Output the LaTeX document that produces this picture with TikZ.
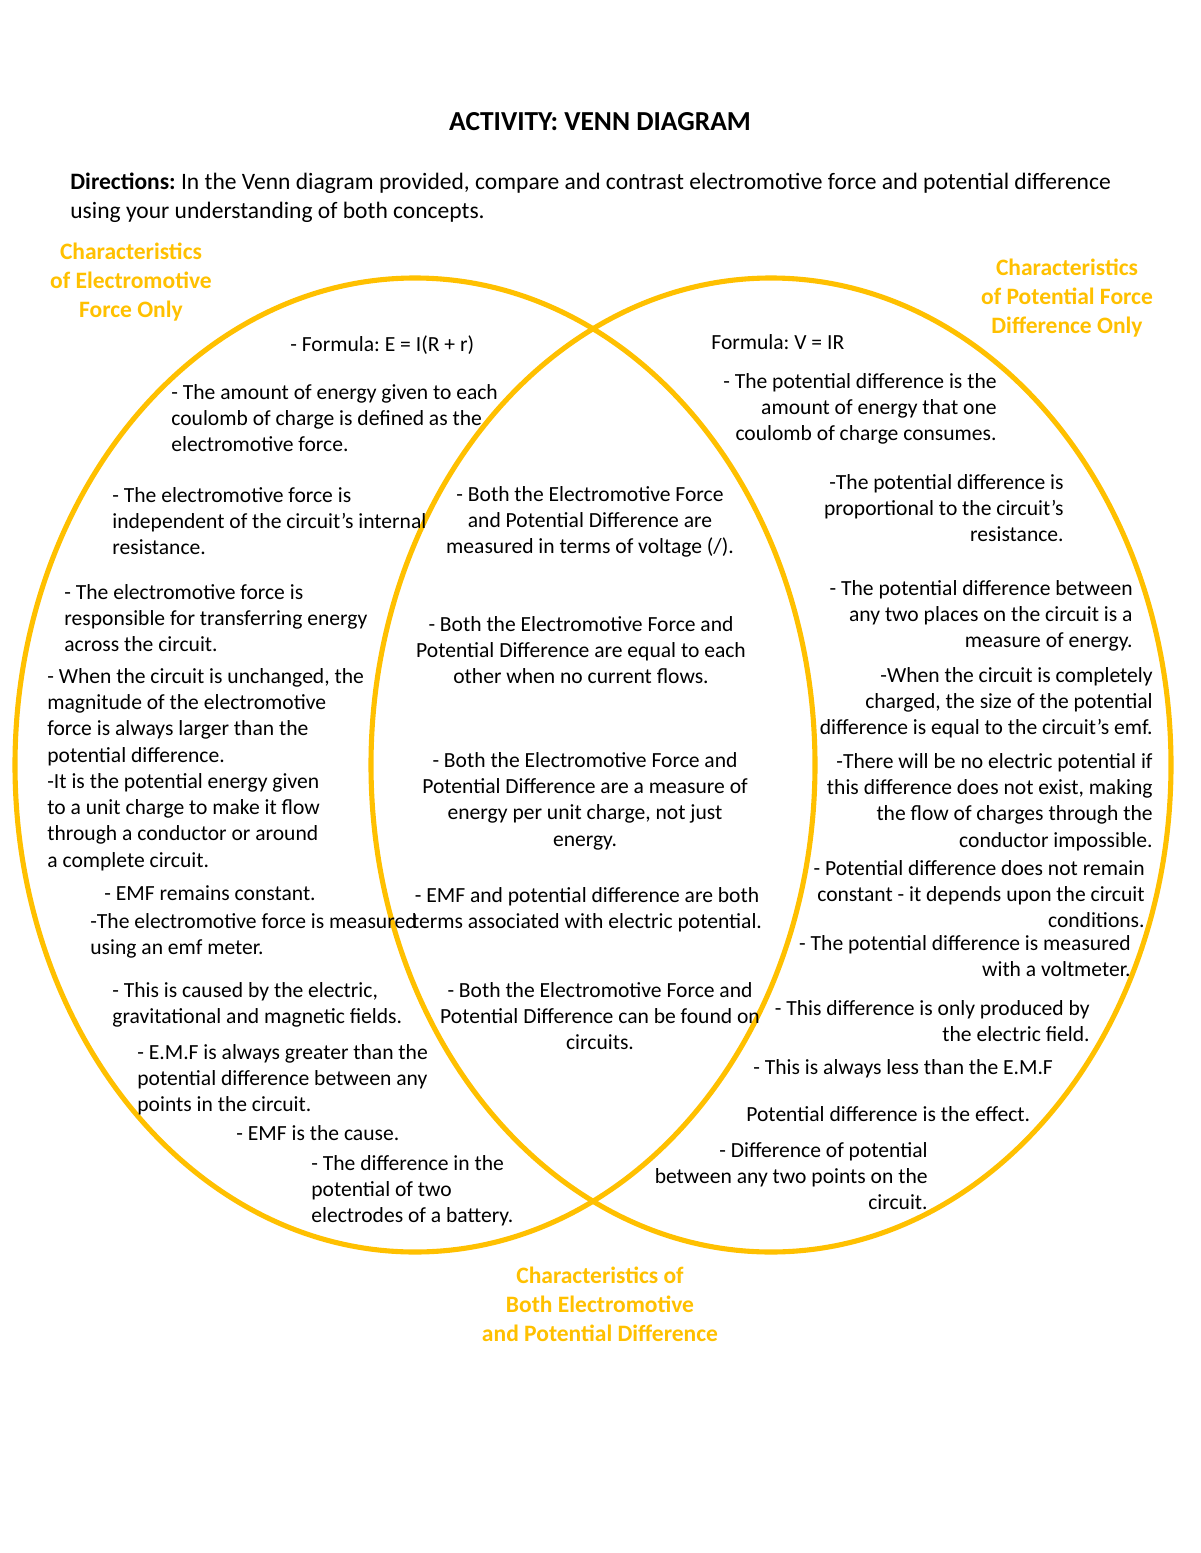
\documentclass[tikz,border=0pt]{standalone}
\usepackage{fontspec}
\setmainfont{Carlito}
\definecolor{gold}{RGB}{255,192,0}
\frenchspacing
\begin{document}
\begin{tikzpicture}[x=0.51pt,y=-0.51pt,
  txt/.style={font=\fontsize{11pt}{13.4pt}\selectfont, inner sep=0pt, align=left, anchor=north west},
  txtr/.style={txt, align=right, anchor=north east},
  txtc/.style={txt, align=center, anchor=north},
  lbl/.style={font=\fontsize{12pt}{14.6pt}\selectfont\bfseries, text=gold, align=center, anchor=north, inner sep=0pt},
  venn/.style={draw=gold, line width=2.6pt}]
\useasboundingbox (0,0) rectangle (1200,1553);
% circles
\draw[venn] (415,765) ellipse [x radius=400, y radius=487];
\draw[venn] (771,765) ellipse [x radius=400, y radius=487];
% title
\node[font=\fontsize{14pt}{16pt}\selectfont\bfseries, inner sep=0pt, anchor=north] (title) at (600,112) {ACTIVITY: VENN DIAGRAM};
\node[font=\fontsize{12pt}{14.6pt}\selectfont, inner sep=0pt, align=left, anchor=north west] (dir) at (70,173)
 {\textbf{Directions:} In the Venn diagram provided, compare and contrast electromotive force and potential difference\\using your understanding of both concepts.};
% gold labels
\node[lbl] (lblL) at (131,243) {Characteristics\\of Electromotive\\Force Only};
\node[lbl] (lblR) at (1067,259) {Characteristics\\of Potential Force\\Difference Only};
\node[lbl] (lblB) at (600,1267) {Characteristics of\\Both Electromotive\\and Potential Difference};
% left only
\node[txt] (l1) at (290,335) {- Formula: E = I(R + r)};
\node[txt] (l2) at (171,384) {- The amount of energy given to each\\coulomb of charge is defined as the\\electromotive force.};
\node[txt] (l3) at (112,487) {- The electromotive force is\\independent of the circuit’s internal\\resistance.};
\node[txt] (l4) at (64,584) {- The electromotive force is\\responsible for transferring energy\\across the circuit.};
\node[txt] (l5) at (47,668) {- When the circuit is unchanged, the\\magnitude of the electromotive\\force is always larger than the\\potential difference.};
\node[txt] (l6) at (47,773) {-It is the potential energy given\\to a unit charge to make it flow\\through a conductor or around\\a complete circuit.};
\node[txt] (l7) at (104,885) {- EMF remains constant.};
\node[txt] (l8) at (90,913) {-The electromotive force is measured\\using an emf meter.};
\node[txt] (l9) at (112,982) {- This is caused by the electric,\\gravitational and magnetic fields.};
\node[txt] (l10) at (137,1044) {- E.M.F is always greater than the\\potential difference between any\\points in the circuit.};
\node[txt] (l11) at (236,1125) {- EMF is the cause.};
\node[txt] (l12) at (311,1155) {- The difference in the\\potential of two\\electrodes of a battery.};
% both
\node[txtc] (b1) at (590,486) {- Both the Electromotive Force\\and Potential Difference are\\measured in terms of voltage (/).};
\node[txtc] (b2) at (581,616) {- Both the Electromotive Force and\\Potential Difference are equal to each\\other when no current flows.};
\node[txtc] (b3) at (585,752) {- Both the Electromotive Force and\\Potential Difference are a measure of\\energy per unit charge, not just\\energy.};
\node[txtc] (b4) at (587,887) {- EMF and potential difference are both\\terms associated with electric potential.};
\node[txtc] (b5) at (600,982) {- Both the Electromotive Force and\\Potential Difference can be found on\\circuits.};
% right only
\node[txt] (r1) at (711,334) {Formula: V = IR};
\node[txtr] (r2) at (997,373) {- The potential difference is the\\amount of energy that one\\coulomb of charge consumes.};
\node[txtr] (r3) at (1064,474) {-The potential difference is\\proportional to the circuit’s\\resistance.};
\node[txtr] (r4) at (1133,580) {- The potential difference between\\any two places on the circuit is a\\measure of energy.};
\node[txtr] (r5) at (1153,667) {-When the circuit is completely\\charged, the size of the potential\\difference is equal to the circuit’s emf.};
\node[txtr] (r6) at (1153,753) {-There will be no electric potential if\\this difference does not exist, making\\the flow of charges through the\\conductor impossible.};
\node[txtr] (r7) at (1145,860) {- Potential difference does not remain\\constant - it depends upon the circuit\\conditions.};
\node[txtr] (r8) at (1131,935) {- The potential difference is measured\\with a voltmeter.};
\node[txtr] (r9) at (1090,1000) {- This difference is only produced by\\the electric field.};
\node[txt] (r10) at (753,1059) {- This is always less than the E.M.F};
\node[txt] (r11) at (746,1106) {Potential difference is the effect.};
\node[txtr] (r12) at (928,1142) {- Difference of potential\\between any two points on the\\circuit.};
\end{tikzpicture}
\end{document}
